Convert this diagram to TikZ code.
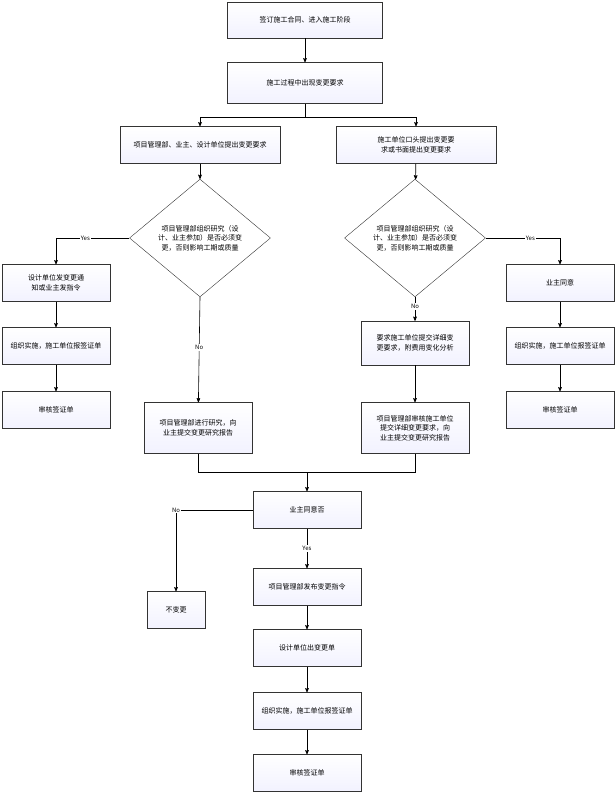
\documentclass[tikz,border=0pt]{standalone}
\usepackage{fontspec}
\setmainfont{Noto Sans CJK SC}
\XeTeXlinebreaklocale "zh"
\XeTeXlinebreakskip=0pt
\usetikzlibrary{arrows,shapes.geometric}

\begin{document}
\begin{tikzpicture}[x=1pt,y=-1pt,>=stealth',semithick,
	font=\fontsize{7}{9.5}\selectfont]
	\tikzstyle{stepbox}=[draw=black!80,thin,top color=white,bottom color=blue!5,
	  minimum width=108pt,minimum height=37pt,text width=100pt,align=center,inner sep=2pt]
	\tikzstyle{widebox}=[stepbox,minimum width=155pt,text width=145pt,minimum height=36pt]
	\tikzstyle{midbox}=[stepbox,minimum width=160pt,text width=140pt]
	\tikzstyle{decide}=[diamond,draw=black!80,thin,fill=white,
	  minimum width=141pt,minimum height=94pt,inner sep=0pt,text width=92pt,align=center]
	\tikzstyle{line}=[draw,thin]
	\tikzstyle{lab}=[fill=white,inner sep=1pt,font=\fontsize{6}{7}\selectfont]
	\useasboundingbox (0,0) rectangle (615,795);
	% top
	\node[widebox] (sign) at (305,20) {签订施工合同、进入施工阶段};
	\node[widebox,minimum height=41pt] (req) at (305,83) {施工过程中出现变更要求};
	\node[midbox] (ownreq) at (200,145) {项目管理部、业主、设计单位提出变更要求};
	\node[midbox] (conreq) at (416,145) {施工单位口头提出变更要求或书面提出变更要求};
	\node[decide] (dl) at (200,238) {项目管理部组织研究（设计、业主参加）是否必须变更，否则影响工期或质量};
	\node[decide] (dr) at (415,238) {项目管理部组织研究（设计、业主参加）是否必须变更，否则影响工期或质量};
	% left column
	\node[stepbox] (notice) at (56,283) {设计单位发变更通知或业主发指令};
	\node[stepbox] (doL) at (56,346) {组织实施，施工单位报签证单};
	\node[stepbox] (chkL) at (56,410) {审核签证单};
	\node[stepbox,minimum height=51pt] (study) at (198,428) {项目管理部进行研究，向业主提交变更研究报告};
	% right columns
	\node[stepbox,minimum height=44pt] (detail) at (415,343) {要求施工单位提交详细变更要求，附费用变化分析};
	\node[stepbox,minimum height=51pt] (audit) at (415,428) {项目管理部审核施工单位提交详细变更要求，向业主提交变更研究报告};
	\node[stepbox] (agree) at (560,283) {业主同意};
	\node[stepbox] (doR) at (560,346) {组织实施，施工单位报签证单};
	\node[stepbox] (chkR) at (560,410) {审核签证单};
	% bottom
	\node[stepbox] (ok) at (307,510) {业主同意否};
	\node[stepbox,minimum width=58pt,text width=54pt] (keep) at (176,610) {不变更};
	\node[stepbox] (issue) at (307,587) {项目管理部发布变更指令};
	\node[stepbox] (design) at (307,648) {设计单位出变更单};
	\node[stepbox] (doB) at (307,711) {组织实施，施工单位报签证单};
	\node[stepbox] (chkB) at (307,773) {审核签证单};
	\coordinate (split) at (305,117);
	\coordinate (join) at (307,472);

	\draw[->] (sign) -- (req);
	\path[line] (req) -- (split);
	\draw[->] (split) -| (ownreq);
	\draw[->] (split) -| (conreq);
	\draw[->] (ownreq) -- (dl);
	\draw[->] (conreq) -- (dr);
	\draw[->] (dl.west) -| node[lab,pos=0.3] {Yes} (notice);
	\draw[->] (dl.south) -- node[lab,pos=0.48] {No} (study);
	\draw[->] (dr.east) -| node[lab,pos=0.3] {Yes} (agree);
	\draw[->] (dr.south) -- node[lab,pos=0.4] {No} (detail);
	\draw[->] (notice) -- (doL);
	\draw[->] (doL) -- (chkL);
	\draw[->] (detail) -- (audit);
	\draw[->] (agree) -- (doR);
	\draw[->] (doR) -- (chkR);
	\path[line] (study.south) |- (join);
	\path[line] (audit.south) |- (join);
	\draw[->] (join) -- (ok);
	\draw[->] (ok.west) -| node[lab,pos=0.5] {No} (keep);
	\draw[->] (ok) -- node[lab] {Yes} (issue);
	\draw[->] (issue) -- (design);
	\draw[->] (design) -- (doB);
	\draw[->] (doB) -- (chkB);
\end{tikzpicture}
\end{document}
